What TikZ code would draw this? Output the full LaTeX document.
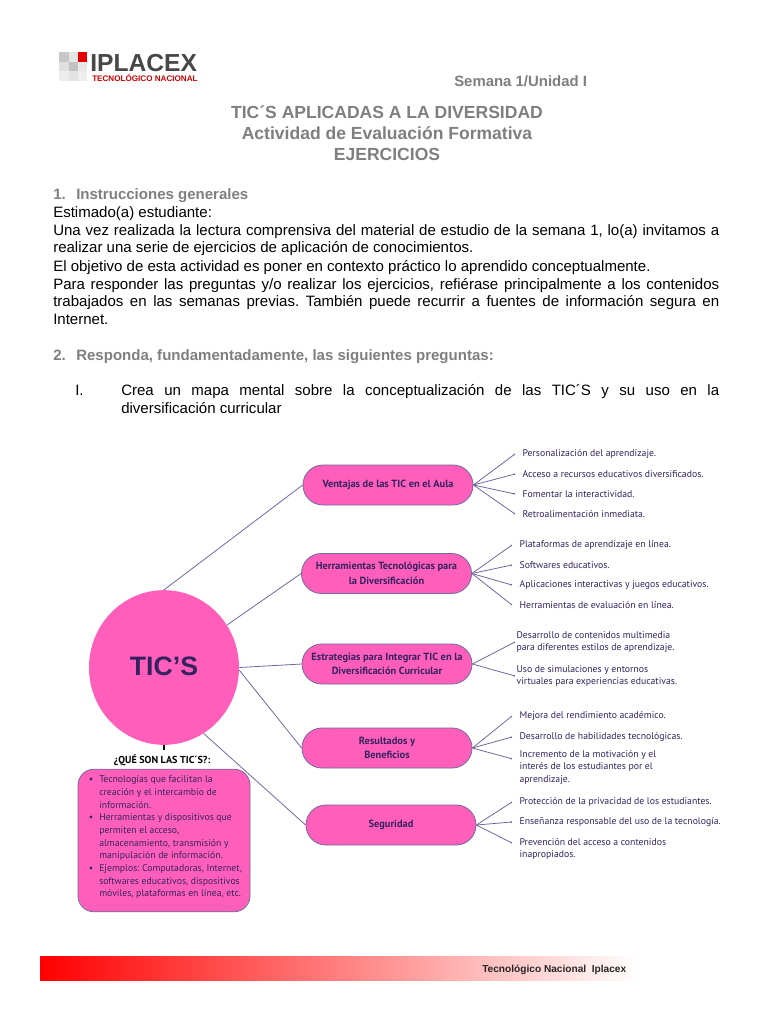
\documentclass[tikz,border=0pt]{standalone}
\usepackage{fontspec}
\setmainfont{Liberation Sans}
\newfontfamily\hand{PT Sans}
\usetikzlibrary{arrows.meta,shapes.geometric}
\frenchspacing
\definecolor{pinkfill}{HTML}{FF5FBB}
\definecolor{inkp}{HTML}{33225F}
\definecolor{edgep}{HTML}{6E6A9E}
\definecolor{headg}{HTML}{7F7F7F}
\newcommand{\jline}[2]{\hbox to #1{#2}}
\tikzset{
  x=0.75pt,y=-0.75pt,
  body/.style={anchor=base west,inner sep=0pt,font=\fontsize{11.27}{13}\selectfont,text=black},
  headline/.style={anchor=base west,inner sep=0pt,font=\fontsize{11.27}{13}\selectfont\bfseries,text=headg},
  titleline/.style={anchor=base,inner sep=0pt,font=\fontsize{13.15}{15}\selectfont\bfseries,text=headg},
  hub/.style={draw=edgep,line width=0.6pt,fill=pinkfill,rounded corners=14.9pt,minimum width=127.5pt,minimum height=30pt,inner sep=0pt,align=center,text=inkp,font=\hand\bfseries\fontsize{7.8}{10.8}\selectfont},
  leaf/.style={anchor=west,inner ysep=0pt,inner xsep=5.5pt,align=left,text=inkp,font=\hand\fontsize{7.3}{9.6}\selectfont},
  link/.style={draw=edgep,line width=0.6pt},
  twig/.style={draw=edgep,line width=0.6pt,-{Circle[length=1.2pt,width=1.2pt]}},
  gsq/.style={minimum size=7.2pt,inner sep=0pt,draw=none}
}
\begin{document}
\begin{tikzpicture}
\useasboundingbox (0,0) rectangle (768,1024);
\fill[white] (0,0) rectangle (768,1024);
% logo
\node[gsq,fill=black!22] (g11) at (64,57) {};
\node[gsq,fill=black!10] (g12) at (73.3,57) {};
\node[gsq,fill=black!24] (g22) at (73.3,66.5) {};
\node[gsq,fill=black!12] (g21) at (64,66.5) {};
\node[gsq,fill=black!9] (g23) at (82.6,66.5) {};
\node[gsq,fill=black!7] (g31) at (64,76) {};
\node[gsq,fill=black!11] (g32) at (73.3,76) {};
\node[gsq,fill=black!7] (g33) at (82.6,76) {};
\node[gsq,fill=red!90!black] (g13) at (82.6,57) {};
\node[anchor=base west,inner sep=0pt,text=black!72] (logoa) at (90,71.5) {\resizebox{80pt}{!}{\bfseries IPLACEX}};
\node[anchor=base west,inner sep=0pt,text=red!80!black] (logob) at (92,81.5) {\resizebox{79pt}{!}{\bfseries TECNOLÓGICO NACIONAL}};
% header
\node[headline,font=\fontsize{11.2}{13}\selectfont\bfseries] (sem) at (454,86) {Semana 1/Unidad I};
\node[titleline] (t1) at (387,118) {TIC´S APLICADAS A LA DIVERSIDAD};
\node[titleline] (t2) at (387,139) {Actividad de Evaluación Formativa};
\node[titleline] (t3) at (387,160) {EJERCICIOS};
% body
\node[headline] (h1n) at (53,199) {1.};
\node[headline] (h1) at (76,199) {Instrucciones generales};
\node[body] (p1) at (53,217) {Estimado(a) estudiante:};
\node[body] (p2) at (53,235) {\jline{499.5pt}{Una vez realizada la lectura comprensiva del material de estudio de la semana 1, lo(a) invitamos a}};
\node[body] (p3) at (53,252) {realizar una serie de ejercicios de aplicación de conocimientos.};
\node[body] (p4) at (53,271) {El objetivo de esta actividad es poner en contexto práctico lo aprendido conceptualmente.};
\node[body] (p5) at (53,289) {\jline{499.5pt}{Para responder las preguntas y/o realizar los ejercicios, refiérase principalmente a los contenidos}};
\node[body] (p6) at (53,306) {\jline{499.5pt}{trabajados en las semanas previas. También puede recurrir a fuentes de información segura en}};
\node[body] (p7) at (53,324) {Internet.};
\node[headline] (h2n) at (53,360) {2.};
\node[headline] (h2) at (76,360) {Responda, fundamentadamente, las siguientes preguntas:};
\node[body] (qn) at (75,395) {I.};
\node[body] (q1) at (121,395) {\jline{448.5pt}{Crea un mapa mental sobre la conceptualización de las TIC´S y su uso en la}};
\node[body] (q2) at (121,413) {diversificación curricular};
% mind map
\node[ellipse,fill=pinkfill,minimum width=112.5pt,minimum height=116pt,inner sep=0pt,text=inkp,font=\fontsize{20}{24}\selectfont\bfseries] (tic) at (164,667.5) {\raisebox{1.5pt}{TIC’S}};
\node[hub] (b1) at (388,485) {Ventajas de las TIC en el Aula};
\node[hub] (b2) at (386.5,573.5) {Herramientas Tecnológicas para\\la Diversificación};
\node[hub] (b3) at (387,664) {Estrategias para Integrar TIC en la\\Diversificación Curricular};
\node[hub] (b4) at (387,748) {Resultados y\\Beneficios};
\node[hub] (b5) at (391,825) {Seguridad};
\node[inner sep=0pt,minimum height=14pt,text=black,font=\hand\fontsize{7.6}{9}\selectfont\bfseries] (q) at (162,760) {¿QUÉ SON LAS TIC´S?:};
\node[draw=edgep,line width=0.6pt,fill=pinkfill,rounded corners=12pt,minimum width=129pt,minimum height=107pt,inner sep=0pt] (box) at (164,840.5) {};
\node[anchor=north west,inner sep=0pt,align=left,text=inkp,font=\hand\fontsize{7.3}{9.5}\selectfont] (boxtext) at (99,775.5) {%
\llap{\textbullet\hspace{4.5pt}}Tecnologías que facilitan la\\
creación y el intercambio de\\
información.\\
\llap{\textbullet\hspace{4.5pt}}Herramientas y dispositivos que\\
permiten el acceso,\\
almacenamiento, transmisión y\\
manipulación de información.\\
\llap{\textbullet\hspace{4.5pt}}Ejemplos: Computadoras, Internet,\\
softwares educativos, dispositivos\\
móviles, plataformas en línea, etc.};
% leaves
\node[leaf] (l11) at (515,454) {Personalización del aprendizaje.};
\node[leaf] (l12) at (515,474) {Acceso a recursos educativos diversificados.};
\node[leaf] (l13) at (515,494) {Fomentar la interactividad.};
\node[leaf] (l14) at (515,514) {Retroalimentación inmediata.};
\node[leaf] (l21) at (512,545) {Plataformas de aprendizaje en línea.};
\node[leaf] (l22) at (512,565) {Softwares educativos.};
\node[leaf] (l23) at (512,585) {Aplicaciones interactivas y juegos educativos.};
\node[leaf] (l24) at (512,605) {Herramientas de evaluación en línea.};
\node[leaf,inner xsep=1pt] (l31) at (515,642) {Desarrollo de contenidos multimedia\\para diferentes estilos de aprendizaje.};
\node[leaf,inner xsep=1pt] (l32) at (515,676) {Uso de simulaciones y entornos\\virtuales para experiencias educativas.};
\node[leaf] (l41) at (512,716) {Mejora del rendimiento académico.};
\node[leaf] (l42) at (512,737) {Desarrollo de habilidades tecnológicas.};
\node[leaf] (l43) at (512,767.5) {Incremento de la motivación y el\\interés de los estudiantes por el\\aprendizaje.};
\node[leaf] (l51) at (512,802) {Protección de la privacidad de los estudiantes.};
\node[leaf] (l52) at (512,822) {Enseñanza responsable del uso de la tecnología.};
\node[leaf] (l53) at (512,849) {Prevención del acceso a contenidos\\inapropiados.};
% connectors
\draw[link] (tic.north) -- (b1.west);
\draw[link] (tic.34) -- (b2.west);
\draw[link] (tic.east) -- (b3.west);
\draw[link] (tic.-2) -- (b4.west);
\draw[link] (tic.-59) -- (b5.west);
\draw[black,line width=1.5pt] (tic.south) -- (tic.south |- q.north);
\foreach \n in {l11,l12,l13,l14} \draw[twig] (b1.east) -- (\n.west);
\foreach \n in {l21,l22,l23,l24} \draw[twig] (b2.east) -- (\n.west);
\foreach \n in {l31,l32} \draw[twig] (b3.east) -- (\n.west);
\foreach \n in {l41,l42} \draw[twig] (b4.east) -- (\n.west);
\draw[twig] (b4.east) -- ([yshift=6.5pt]l43.west);
\foreach \n in {l51,l52} \draw[twig] (b5.east) -- (\n.west);
\draw[twig] (b5.east) -- ([yshift=4.5pt]l53.west);
% footer
\node[left color=red,right color=white,minimum width=450pt,minimum height=17.5pt,inner sep=0pt] (bar) at (340,968.5) {};
\node[anchor=base west,inner sep=0pt,text=black!85,font=\fontsize{7.6}{9}\selectfont\bfseries] (foot) at (482,972.5) {Tecnológico Nacional\ \ Iplacex};
\end{tikzpicture}
\end{document}
